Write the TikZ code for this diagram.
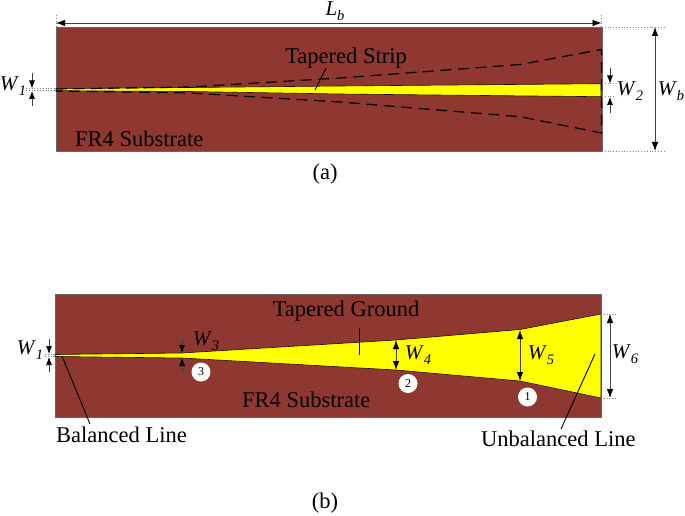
\documentclass[tikz,border=0pt]{standalone}
\usepackage{fontspec}
\setmainfont{Liberation Serif}
\usetikzlibrary{arrows.meta}
\definecolor{fr4}{HTML}{8F3831}
\definecolor{strip}{HTML}{FFFF00}
\newcommand{\dimsym}[2]{\textit{#1}\raisebox{-0.22em}{\fontsize{14.5}{14.5}\selectfont\textit{#2}}}
\tikzset{
	substrate/.style={fill=fr4,draw=black!60,line width=0.7pt},
	metal/.style={fill=strip,draw=black!80!fr4,line width=0.6pt},
	outline/.style={draw=black,line width=1.2pt,dash pattern=on 11pt off 6.5pt},
	dimline/.style={draw=black!75,line width=0.8pt,{Latex[length=9pt,width=6.5pt,black]}-{Latex[length=9pt,width=6.5pt,black]}},
	tickline/.style={draw=black!75,line width=0.7pt,-{Latex[length=8pt,width=6pt,black]}},
	extline/.style={draw=black!50,line width=0.8pt,dotted},
	leader/.style={draw=black,line width=0.9pt},
	caption/.style={inner sep=0pt,font=\fontsize{22.5}{22.5}\selectfont},
	dimlabel/.style={inner sep=0pt,font=\fontsize{21}{21}\selectfont},
	portmark/.style={circle,fill=white,inner sep=0pt,minimum size=19pt,font=\fontsize{12}{12}\selectfont}
}
\begin{document}
\begin{tikzpicture}[x=1pt,y=-1pt]
	\useasboundingbox (0,0) rectangle (685,516);
	\coordinate (a0) at (56,27);
	\coordinate (a1) at (602,151);
	\coordinate (b0) at (55,294);
	\coordinate (b1) at (601,417);

	\draw[substrate] (a0) rectangle (a1);
	\draw[metal] (56,88.7) -- (190,87.5) -- (340,86) -- (601,83.7) -- (601,96.7) -- (340,94) -- (190,91.5) -- (56,90.7) -- cycle;
	\draw[outline] (56,89) -- (190,87) -- (340,78) -- (520,64.5) -- (601.5,49.5) -- (601.5,133) -- (520,116.7) -- (340,102) -- (190,93) -- (56,91);

	\node[caption] (lstrip) at (346,58) {Tapered Strip};
	\node[caption,anchor=west] (lsuba) at (75,139) {FR4 Substrate};
	\node[caption] (capa) at (325,174) {(a)};
	\node[dimlabel] (lb) at (335,11) {\dimsym{L}{b}};
	\node[dimlabel] (wb) at (671,91) {\dimsym{W}{b}};
	\node[dimlabel] (w2) at (630,91) {\dimsym{W}{2}};
	\node[dimlabel] (w1a) at (13,86) {\dimsym{W}{1}};

	\coordinate (sa) at (326,68);
	\coordinate (ta) at (315,90);
	\draw[leader] (sa) -- (ta);

	\coordinate (la0) at (56,23);
	\coordinate (la1) at (601.5,23);
	\draw[extline] (56,15) -- (a0);
	\draw[extline] (601.5,15) -- (601.5,27);
	\draw[dimline] (la0) -- (la1);
	\coordinate (wb0) at (655,27);
	\coordinate (wb1) at (655,151);
	\draw[extline] (602,27) -- (666,27);
	\draw[extline] (602,151) -- (666,151);
	\draw[dimline] (wb0) -- (wb1);
	\coordinate (w2a) at (610,68);
	\coordinate (w2b) at (610,83.5);
	\coordinate (w2c) at (610,113);
	\coordinate (w2d) at (610,97);
	\draw[extline] (602,83.5) -- (616,83.5);
	\draw[extline] (602,96.7) -- (616,96.7);
	\draw[tickline] (w2a) -- (w2b);
	\draw[tickline] (w2c) -- (w2d);
	\coordinate (w1p) at (32,73);
	\coordinate (w1q) at (32,88.5);
	\coordinate (w1r) at (32,106);
	\coordinate (w1s) at (32,91);
	\draw[extline] (26,88.5) -- (56,88.5);
	\draw[extline] (26,90.8) -- (56,90.8);
	\draw[tickline] (w1p) -- (w1q);
	\draw[tickline] (w1r) -- (w1s);

	\draw[substrate] (b0) rectangle (b1);
	\draw[metal] (55,354.5) -- (182,353) -- (396,340) -- (520,329.5) -- (601,314) -- (601,398) -- (520,381) -- (396,370) -- (182,358) -- (55,356.5) -- cycle;

	\node[caption] (lgnd) at (346,311) {Tapered Ground};
	\node[caption,anchor=west] (lsubb) at (242,400) {FR4 Substrate};
	\node[caption,anchor=west] (lbal) at (56,435) {Balanced Line};
	\node[caption,anchor=west] (lunb) at (481,439) {Unbalanced Line};
	\node[caption] (capb) at (325,503) {(b)};
	\node[dimlabel] (w1b) at (30,350) {\dimsym{W}{1}};
	\node[dimlabel] (w3) at (206,341) {\dimsym{W}{3}};
	\node[dimlabel] (w4) at (418,355) {\dimsym{W}{4}};
	\node[dimlabel] (w5) at (541,355) {\dimsym{W}{5}};
	\node[dimlabel] (w6) at (625,354) {\dimsym{W}{6}};
	\node[portmark] (p3) at (201,372) {3};
	\node[portmark] (p2) at (408,383.5) {2};
	\node[portmark] (p1) at (527.5,397) {1};

	\coordinate (sg) at (359,328);
	\coordinate (tg) at (359,355);
	\draw[leader] (sg) -- (tg);
	\coordinate (tbal) at (62,356);
	\coordinate (sbal) at (90,424);
	\draw[leader] (sbal) -- (tbal);
	\coordinate (tunb) at (595,354);
	\coordinate (sunb) at (561,429);
	\draw[leader] (sunb) -- (tunb);

	\coordinate (w1t) at (49,339);
	\coordinate (w1u) at (49,354);
	\coordinate (w1v) at (49,372);
	\coordinate (w1w) at (49,357);
	\draw[extline] (45,354) -- (55,354);
	\draw[extline] (45,356.5) -- (55,356.5);
	\draw[tickline] (w1t) -- (w1u);
	\draw[tickline] (w1v) -- (w1w);
	\coordinate (w3a) at (182,339);
	\coordinate (w3b) at (182,353);
	\coordinate (w3c) at (182,373);
	\coordinate (w3d) at (182,358);
	\draw[tickline] (w3a) -- (w3b);
	\draw[tickline] (w3c) -- (w3d);
	\coordinate (w4a) at (396,340);
	\coordinate (w4b) at (396,370);
	\draw[dimline] (w4a) -- (w4b);
	\coordinate (w5a) at (520,330);
	\coordinate (w5b) at (520,381);
	\draw[dimline] (w5a) -- (w5b);
	\coordinate (w6a) at (610,314);
	\coordinate (w6b) at (610,398);
	\draw[extline] (601,314) -- (616,314);
	\draw[extline] (601,398) -- (616,398);
	\draw[dimline] (w6a) -- (w6b);
\end{tikzpicture}
\end{document}
